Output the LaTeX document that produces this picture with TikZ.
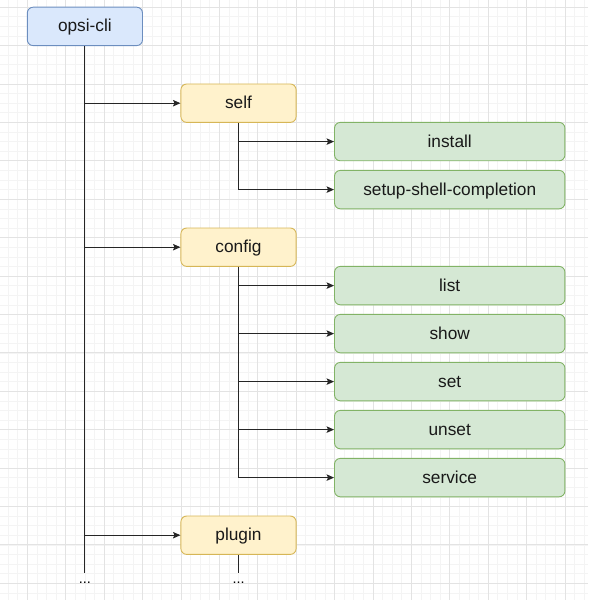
\documentclass[tikz,border=0pt]{standalone}
\usepackage{fontspec}
\setmainfont{Liberation Sans}
\usetikzlibrary{arrows.meta}
\definecolor{bluefill}{HTML}{DAE8FC}
\definecolor{bluedraw}{HTML}{6C8EBF}
\definecolor{yelfill}{HTML}{FFF2CC}
\definecolor{yeldraw}{HTML}{D6B656}
\definecolor{grnfill}{HTML}{D5E8D4}
\definecolor{grndraw}{HTML}{82B366}
\definecolor{gridminor}{HTML}{F4F4F4}
\definecolor{gridmajor}{HTML}{E3E3E3}
\tikzset{
  box/.style={rectangle, rounded corners=5.8pt, line width=0.9pt, inner sep=0pt,
    text height=14pt, text depth=3pt,
    font=\fontsize{17.28pt}{20pt}\selectfont, text=black!90},
  rootbox/.style={box, fill=bluefill, draw=bluedraw, minimum width=115.2pt, minimum height=38.4pt},
  cmdbox/.style={box, fill=yelfill, draw=yeldraw, minimum width=115.2pt, minimum height=38.4pt},
  subbox/.style={box, fill=grnfill, draw=grndraw, minimum width=230.4pt, minimum height=38.4pt},
  conn/.style={line width=0.95pt, draw=black!85, -{Stealth[length=7.5pt,width=6.5pt,inset=1.5pt]}},
  plain/.style={line width=0.95pt, draw=black!85},
  dots/.style={font=\fontsize{14.4pt}{16pt}\selectfont, inner sep=0pt, anchor=base}
}
\begin{document}
\begin{tikzpicture}[x=0.96pt, y=-0.96pt]
\useasboundingbox (-28.44,-7.5) rectangle (584.06,617.5);
% grid
\foreach \gx in {-20,-10,...,580} {\draw[gridminor, line width=0.6pt] (\gx,-7.5) -- (\gx,617.5);}
\foreach \gy in {0,10,...,610} {\draw[gridminor, line width=0.6pt] (-28.44,\gy) -- (584.06,\gy);}
\foreach \gx in {0,40,...,560} {\draw[gridmajor, line width=0.7pt] (\gx,-7.5) -- (\gx,617.5);}
\foreach \gy in {0,40,...,600} {\draw[gridmajor, line width=0.7pt] (-28.44,\gy) -- (584.06,\gy);}
% nodes
\node[rootbox] (opsi) at (60,20) {opsi-cli};
\node[cmdbox] (self) at (220,100) {self};
\node[subbox] (install) at (440,140) {install};
\node[subbox] (setup) at (440,190) {setup-shell-completion};
\node[cmdbox] (config) at (220,250) {config};
\node[subbox] (list) at (440,290) {list};
\node[subbox] (show) at (440,340) {show};
\node[subbox] (set) at (440,390) {set};
\node[subbox] (unset) at (440,440) {unset};
\node[subbox] (service) at (440,490) {service};
\node[cmdbox] (plugin) at (220,550) {plugin};
\coordinate (endL) at (60,589);
\coordinate (endR) at (220,589);
\node[dots] (dotsL) at (60,600) {...};
\node[dots] (dotsR) at (220,600) {...};
% connectors
\draw[plain] (opsi.south) -- (endL);
\draw[plain] (plugin.south) -- (endR);
\draw[conn] (opsi.south) |- (self.west);
\draw[conn] (opsi.south) |- (config.west);
\draw[conn] (opsi.south) |- (plugin.west);
\draw[conn] (self.south) |- (install.west);
\draw[conn] (self.south) |- (setup.west);
\draw[conn] (config.south) |- (list.west);
\draw[conn] (config.south) |- (show.west);
\draw[conn] (config.south) |- (set.west);
\draw[conn] (config.south) |- (unset.west);
\draw[conn] (config.south) |- (service.west);
\end{tikzpicture}
\end{document}
